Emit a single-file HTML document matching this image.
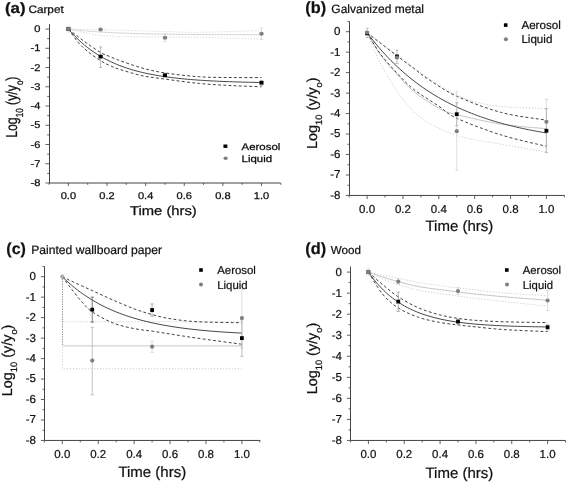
<!DOCTYPE html>
<html lang="en"><head><meta charset="utf-8"><title>Figure</title>
<style>
html,body{margin:0;padding:0;background:#fff;}
body{width:567px;height:482px;overflow:hidden;}
svg{display:block;font-family:"Liberation Sans", Arial, Helvetica, sans-serif;}
</style></head><body>
<svg width="567" height="482" viewBox="0 0 567 482" text-rendering="geometricPrecision">
<rect width="567" height="482" fill="#fff"/>
<path d="M49.50 24.10V183.00H280.60" fill="none" stroke="#444" stroke-width="1.0"/>
<path d="M49.50 29.05h-4.0M49.50 38.67h-2.3M49.50 48.29h-4.0M49.50 57.92h-2.3M49.50 67.54h-4.0M49.50 77.16h-2.3M49.50 86.78h-4.0M49.50 96.40h-2.3M49.50 106.02h-4.0M49.50 115.65h-2.3M49.50 125.27h-4.0M49.50 134.89h-2.3M49.50 144.51h-4.0M49.50 154.13h-2.3M49.50 163.76h-4.0M49.50 173.38h-2.3M49.50 183.00h-4.0M68.40 183.00v3.0M107.02 183.00v3.0M145.64 183.00v3.0M184.26 183.00v3.0M222.88 183.00v3.0M261.50 183.00v3.0M49.09 183.00v1.8M87.71 183.00v1.8M126.33 183.00v1.8M164.95 183.00v1.8M203.57 183.00v1.8M242.19 183.00v1.8M280.81 183.00v1.8" fill="none" stroke="#444" stroke-width="0.85"/>
<text transform="translate(40.30,32.16) scale(1.130,1)" font-size="9.8" text-anchor="end" font-weight="normal" fill="#111" stroke="#111" stroke-width="0.28">0</text>
<text transform="translate(40.30,51.40) scale(1.130,1)" font-size="9.8" text-anchor="end" font-weight="normal" fill="#111" stroke="#111" stroke-width="0.28">-1</text>
<text transform="translate(40.30,70.65) scale(1.130,1)" font-size="9.8" text-anchor="end" font-weight="normal" fill="#111" stroke="#111" stroke-width="0.28">-2</text>
<text transform="translate(40.30,89.89) scale(1.130,1)" font-size="9.8" text-anchor="end" font-weight="normal" fill="#111" stroke="#111" stroke-width="0.28">-3</text>
<text transform="translate(40.30,109.13) scale(1.130,1)" font-size="9.8" text-anchor="end" font-weight="normal" fill="#111" stroke="#111" stroke-width="0.28">-4</text>
<text transform="translate(40.30,128.38) scale(1.130,1)" font-size="9.8" text-anchor="end" font-weight="normal" fill="#111" stroke="#111" stroke-width="0.28">-5</text>
<text transform="translate(40.30,147.62) scale(1.130,1)" font-size="9.8" text-anchor="end" font-weight="normal" fill="#111" stroke="#111" stroke-width="0.28">-6</text>
<text transform="translate(40.30,166.86) scale(1.130,1)" font-size="9.8" text-anchor="end" font-weight="normal" fill="#111" stroke="#111" stroke-width="0.28">-7</text>
<text transform="translate(40.30,186.11) scale(1.130,1)" font-size="9.8" text-anchor="end" font-weight="normal" fill="#111" stroke="#111" stroke-width="0.28">-8</text>
<text transform="translate(68.40,199.20) scale(1.130,1)" font-size="9.8" text-anchor="middle" font-weight="normal" fill="#111" stroke="#111" stroke-width="0.28">0.0</text>
<text transform="translate(107.02,199.20) scale(1.130,1)" font-size="9.8" text-anchor="middle" font-weight="normal" fill="#111" stroke="#111" stroke-width="0.28">0.2</text>
<text transform="translate(145.64,199.20) scale(1.130,1)" font-size="9.8" text-anchor="middle" font-weight="normal" fill="#111" stroke="#111" stroke-width="0.28">0.4</text>
<text transform="translate(184.26,199.20) scale(1.130,1)" font-size="9.8" text-anchor="middle" font-weight="normal" fill="#111" stroke="#111" stroke-width="0.28">0.6</text>
<text transform="translate(222.88,199.20) scale(1.130,1)" font-size="9.8" text-anchor="middle" font-weight="normal" fill="#111" stroke="#111" stroke-width="0.28">0.8</text>
<text transform="translate(261.50,199.20) scale(1.130,1)" font-size="9.8" text-anchor="middle" font-weight="normal" fill="#111" stroke="#111" stroke-width="0.28">1.0</text>
<text transform="translate(5.00,13.00) scale(1.120,1)" font-size="15.0" text-anchor="start" font-weight="bold" fill="#111" stroke="#111" stroke-width="0.28">(a)</text>
<text transform="translate(28.40,13.00) scale(1.090,1)" font-size="10.8" text-anchor="start" font-weight="normal" fill="#111" stroke="#111" stroke-width="0.28">Carpet</text>
<text transform="translate(16.80,107.20) rotate(-90) scale(0.780,1)" font-size="15.8" text-anchor="middle" font-weight="normal" fill="#111" stroke="#111" stroke-width="0.28">Log<tspan font-size="10.27" dy="5.69">10</tspan><tspan dy="-5.69"> (y/y</tspan><tspan font-size="10.27" dy="5.69">o</tspan><tspan dy="-5.69">)</tspan></text>
<text transform="translate(163.40,215.10) scale(1.155,1)" font-size="12.8" text-anchor="middle" font-weight="normal" fill="#111" stroke="#111" stroke-width="0.28">Time (hrs)</text>
<path d="M68.40 29.05C71.62 29.11 80.79 29.27 87.71 29.43C94.63 29.60 97.04 29.66 109.92 30.01C122.79 30.36 149.98 31.17 164.95 31.55C179.92 31.94 183.62 32.48 199.71 32.32C215.80 32.16 251.20 30.88 261.50 30.59" fill="none" stroke="#d2d2d2" stroke-width="0.9" stroke-dasharray="1.2 1.8"/>
<path d="M68.40 29.05C71.62 29.76 80.79 32.10 87.71 33.28C94.63 34.47 97.04 35.53 109.92 36.17C122.79 36.81 149.98 36.94 164.95 37.13C179.92 37.32 183.62 37.00 199.71 37.32C215.80 37.65 251.20 38.77 261.50 39.06" fill="none" stroke="#d2d2d2" stroke-width="0.9" stroke-dasharray="1.2 1.8"/>
<path d="M68.40 29.05L71.62 29.45L74.84 29.82L78.06 30.17L81.27 30.49L84.49 30.79L87.71 31.07L90.93 31.33L94.15 31.57L97.37 31.79L100.58 32.00L103.80 32.20L107.02 32.38L110.24 32.55L113.46 32.71L116.68 32.85L119.89 32.99L123.11 33.12L126.33 33.23L129.55 33.34L132.77 33.45L135.99 33.54L139.20 33.63L142.42 33.71L145.64 33.79L148.86 33.86L152.08 33.93L155.30 33.99L158.51 34.05L161.73 34.10L164.95 34.15L168.17 34.20L171.39 34.24L174.61 34.28L177.82 34.32L181.04 34.35L184.26 34.39L187.48 34.42L190.70 34.44L193.92 34.47L197.13 34.49L200.35 34.52L203.57 34.54L206.79 34.56L210.01 34.58L213.22 34.59L216.44 34.61L219.66 34.62L222.88 34.64L226.10 34.65L229.32 34.66L232.53 34.67L235.75 34.68L238.97 34.69L242.19 34.70L245.41 34.71L248.63 34.72L251.84 34.73L255.06 34.73L258.28 34.74L261.50 34.74" fill="none" stroke="#d6d6d6" stroke-width="1.0"/>
<path d="M68.40 29.05C70.01 30.33 74.84 34.28 78.06 36.75C81.27 39.22 83.95 41.24 87.71 43.87C91.47 46.50 96.89 50.41 100.59 52.53C104.29 54.64 106.69 55.22 109.92 56.57C113.14 57.92 114.65 58.72 119.96 60.61C125.27 62.50 134.28 65.87 141.78 67.92C149.28 69.98 155.29 71.45 164.95 72.93C174.60 74.40 188.44 76.00 199.71 76.77C210.97 77.54 222.24 77.42 232.53 77.54C242.83 77.67 256.67 77.54 261.50 77.54" fill="none" stroke="#3e3e3e" stroke-width="0.98" stroke-dasharray="2.9 2.3"/>
<path d="M68.40 29.05C70.01 31.23 74.84 38.38 78.06 42.14C81.27 45.89 83.95 48.49 87.71 51.57C91.47 54.64 96.89 58.27 100.59 60.61C104.29 62.95 106.69 64.14 109.92 65.61C113.14 67.09 114.65 67.79 119.96 69.46C125.27 71.13 134.28 74.02 141.78 75.62C149.28 77.22 155.29 77.77 164.95 79.08C174.60 80.40 188.44 82.42 199.71 83.51C210.97 84.60 222.24 85.08 232.53 85.63C242.83 86.17 256.67 86.59 261.50 86.78" fill="none" stroke="#3e3e3e" stroke-width="0.98" stroke-dasharray="2.9 2.3"/>
<path d="M68.40 29.05L71.62 32.72L74.84 36.14L78.06 39.33L81.27 42.30L84.49 45.08L87.71 47.66L90.93 50.07L94.15 52.32L97.37 54.42L100.58 56.37L103.80 58.19L107.02 59.89L110.24 61.47L113.46 62.95L116.68 64.33L119.89 65.61L123.11 66.81L126.33 67.92L129.55 68.96L132.77 69.94L135.99 70.84L139.20 71.68L142.42 72.47L145.64 73.20L148.86 73.89L152.08 74.52L155.30 75.12L158.51 75.67L161.73 76.19L164.95 76.67L168.17 77.12L171.39 77.54L174.61 77.93L177.82 78.29L181.04 78.63L184.26 78.95L187.48 79.25L190.70 79.52L193.92 79.78L197.13 80.02L200.35 80.24L203.57 80.45L206.79 80.64L210.01 80.82L213.22 80.99L216.44 81.15L219.66 81.30L222.88 81.43L226.10 81.56L229.32 81.68L232.53 81.79L235.75 81.89L238.97 81.99L242.19 82.08L245.41 82.16L248.63 82.24L251.84 82.31L255.06 82.38L258.28 82.44L261.50 82.50" fill="none" stroke="#464646" stroke-width="1.0"/>
<path d="M68.40 26.16V31.94M66.80 26.16h3.2M66.80 31.94h3.2" fill="none" stroke="#cccccc" stroke-width="0.65"/>
<path d="M164.95 33.86V41.56M163.35 33.86h3.2M163.35 41.56h3.2" fill="none" stroke="#cccccc" stroke-width="0.65"/>
<path d="M261.50 28.09V39.63M259.90 28.09h3.2M259.90 39.63h3.2" fill="none" stroke="#cccccc" stroke-width="0.65"/>
<path d="M100.59 46.95V67.54M99.09 46.95h3.0M99.09 67.54h3.0" fill="none" stroke="#989898" stroke-width="0.65"/>
<path d="M164.95 73.31V77.16M163.35 73.31h3.2M163.35 77.16h3.2" fill="none" stroke="#9c9c9c" stroke-width="0.65"/>
<path d="M261.50 80.43V85.43M259.90 80.43h3.2M259.90 85.43h3.2" fill="none" stroke="#9c9c9c" stroke-width="0.65"/>
<rect x="66.35" y="27.20" width="4.1" height="3.7" fill="#000"/>
<rect x="98.54" y="54.72" width="4.1" height="3.7" fill="#000"/>
<rect x="162.90" y="73.39" width="4.1" height="3.7" fill="#000"/>
<rect x="259.45" y="80.89" width="4.1" height="3.7" fill="#000"/>
<ellipse cx="68.40" cy="29.05" rx="2.25" ry="2.0" fill="#7f7f7f"/>
<ellipse cx="100.59" cy="29.43" rx="2.25" ry="2.0" fill="#7f7f7f"/>
<ellipse cx="164.95" cy="37.71" rx="2.25" ry="2.0" fill="#7f7f7f"/>
<ellipse cx="261.50" cy="33.67" rx="2.25" ry="2.0" fill="#7f7f7f"/>
<rect x="223.45" y="144.50" width="3.9" height="3.4" fill="#000"/>
<ellipse cx="225.60" cy="158.20" rx="2.1" ry="1.8" fill="#7f7f7f"/>
<text transform="translate(241.60,149.60) scale(1.190,1)" font-size="9.6" text-anchor="start" font-weight="normal" fill="#111" stroke="#111" stroke-width="0.28">Aerosol</text>
<text transform="translate(241.60,161.80) scale(1.190,1)" font-size="9.6" text-anchor="start" font-weight="normal" fill="#111" stroke="#111" stroke-width="0.28">Liquid</text>
<path d="M349.50 21.50V195.45H564.40" fill="none" stroke="#444" stroke-width="1.0"/>
<path d="M349.50 21.47h-2.0M349.50 31.70h-3.6M349.50 41.93h-2.0M349.50 52.17h-3.6M349.50 62.40h-2.0M349.50 72.64h-3.6M349.50 82.87h-2.0M349.50 93.11h-3.6M349.50 103.34h-2.0M349.50 113.58h-3.6M349.50 123.81h-2.0M349.50 134.04h-3.6M349.50 144.28h-2.0M349.50 154.51h-3.6M349.50 164.75h-2.0M349.50 174.98h-3.6M349.50 185.22h-2.0M349.50 195.45h-3.6M367.10 195.45v3.6M402.96 195.45v3.6M438.82 195.45v3.6M474.68 195.45v3.6M510.54 195.45v3.6M546.40 195.45v3.6M349.17 195.45v2.0M385.03 195.45v2.0M420.89 195.45v2.0M456.75 195.45v2.0M492.61 195.45v2.0M528.47 195.45v2.0M564.33 195.45v2.0" fill="none" stroke="#444" stroke-width="0.85"/>
<text transform="translate(340.50,35.12)" font-size="11.5" text-anchor="end" font-weight="normal" fill="#111" stroke="#111" stroke-width="0.22">0</text>
<text transform="translate(340.50,55.59)" font-size="11.5" text-anchor="end" font-weight="normal" fill="#111" stroke="#111" stroke-width="0.22">-1</text>
<text transform="translate(340.50,76.05)" font-size="11.5" text-anchor="end" font-weight="normal" fill="#111" stroke="#111" stroke-width="0.22">-2</text>
<text transform="translate(340.50,96.52)" font-size="11.5" text-anchor="end" font-weight="normal" fill="#111" stroke="#111" stroke-width="0.22">-3</text>
<text transform="translate(340.50,116.99)" font-size="11.5" text-anchor="end" font-weight="normal" fill="#111" stroke="#111" stroke-width="0.22">-4</text>
<text transform="translate(340.50,137.46)" font-size="11.5" text-anchor="end" font-weight="normal" fill="#111" stroke="#111" stroke-width="0.22">-5</text>
<text transform="translate(340.50,157.93)" font-size="11.5" text-anchor="end" font-weight="normal" fill="#111" stroke="#111" stroke-width="0.22">-6</text>
<text transform="translate(340.50,178.40)" font-size="11.5" text-anchor="end" font-weight="normal" fill="#111" stroke="#111" stroke-width="0.22">-7</text>
<text transform="translate(340.50,198.87)" font-size="11.5" text-anchor="end" font-weight="normal" fill="#111" stroke="#111" stroke-width="0.22">-8</text>
<text transform="translate(367.10,212.65)" font-size="11.5" text-anchor="middle" font-weight="normal" fill="#111" stroke="#111" stroke-width="0.22">0.0</text>
<text transform="translate(402.96,212.65)" font-size="11.5" text-anchor="middle" font-weight="normal" fill="#111" stroke="#111" stroke-width="0.22">0.2</text>
<text transform="translate(438.82,212.65)" font-size="11.5" text-anchor="middle" font-weight="normal" fill="#111" stroke="#111" stroke-width="0.22">0.4</text>
<text transform="translate(474.68,212.65)" font-size="11.5" text-anchor="middle" font-weight="normal" fill="#111" stroke="#111" stroke-width="0.22">0.6</text>
<text transform="translate(510.54,212.65)" font-size="11.5" text-anchor="middle" font-weight="normal" fill="#111" stroke="#111" stroke-width="0.22">0.8</text>
<text transform="translate(546.40,212.65)" font-size="11.5" text-anchor="middle" font-weight="normal" fill="#111" stroke="#111" stroke-width="0.22">1.0</text>
<text transform="translate(305.30,12.50)" font-size="16.3" text-anchor="start" font-weight="bold" fill="#111" stroke="#111" stroke-width="0.22">(b)</text>
<text transform="translate(331.30,12.80)" font-size="12.0" text-anchor="start" font-weight="normal" fill="#111" stroke="#111" stroke-width="0.22">Galvanized metal</text>
<text transform="translate(316.50,113.20) rotate(-90)" font-size="14.4" text-anchor="middle" font-weight="normal" fill="#111" stroke="#111" stroke-width="0.22">Log<tspan font-size="9.36" dy="5.18">10</tspan><tspan dy="-5.18"> (y/y</tspan><tspan font-size="9.36" dy="5.18">o</tspan><tspan dy="-5.18">)</tspan></text>
<text transform="translate(459.40,231.20)" font-size="15.0" text-anchor="middle" font-weight="normal" fill="#111" stroke="#111" stroke-width="0.22">Time (hrs)</text>
<path d="M367.10 32.72C369.25 34.26 375.03 38.25 380.01 41.93C384.99 45.62 391.37 50.60 396.99 54.83C402.61 59.06 408.45 63.39 413.72 67.32C418.99 71.24 421.43 73.73 428.60 78.37C435.77 83.01 448.47 91.09 456.75 95.15C465.03 99.21 470.50 100.82 478.27 102.73C486.04 104.64 492.01 105.63 503.37 106.62C514.72 107.60 539.23 108.32 546.40 108.66" fill="none" stroke="#c8c8c8" stroke-width="0.9" stroke-dasharray="1.2 1.8"/>
<path d="M367.10 32.72C369.25 37.67 374.69 52.20 380.01 62.40C385.33 72.60 392.20 84.71 399.02 93.92C405.83 103.14 411.27 110.78 420.89 117.67C430.51 124.56 443.30 130.84 456.75 135.27C470.20 139.71 486.63 141.51 501.57 144.28C516.52 147.04 538.93 150.59 546.40 151.85" fill="none" stroke="#c8c8c8" stroke-width="0.9" stroke-dasharray="1.2 1.8"/>
<path d="M367.10 32.72C369.25 36.31 375.03 47.29 380.01 54.22C384.99 61.14 391.37 68.07 396.99 74.28C402.61 80.48 406.75 85.81 413.72 91.47C420.69 97.13 431.65 104.40 438.82 108.25C445.99 112.11 446.29 111.94 456.75 114.60C467.21 117.26 486.63 121.86 501.57 124.22C516.52 126.57 538.93 127.97 546.40 128.72" fill="none" stroke="#c6c6c6" stroke-width="1.0"/>
<path d="M367.10 32.72C369.25 34.40 375.03 38.90 380.01 42.75C384.99 46.61 391.37 51.59 396.99 55.85C402.61 60.12 408.45 64.42 413.72 68.34C418.99 72.26 421.43 74.75 428.60 79.39C435.77 84.03 444.59 90.65 456.75 96.18C468.91 101.70 486.63 108.56 501.57 112.55C516.52 116.54 538.93 118.86 546.40 120.13" fill="none" stroke="#3e3e3e" stroke-width="0.98" stroke-dasharray="2.9 2.3"/>
<path d="M367.10 32.72C369.25 36.17 375.03 46.68 380.01 53.40C384.99 60.12 391.37 67.04 396.99 73.05C402.61 79.05 406.75 83.90 413.72 89.42C420.69 94.95 431.65 101.40 438.82 106.21C445.99 111.02 446.29 113.47 456.75 118.28C467.21 123.09 486.63 130.39 501.57 135.07C516.52 139.74 538.93 144.45 546.40 146.32" fill="none" stroke="#3e3e3e" stroke-width="0.98" stroke-dasharray="2.9 2.3"/>
<path d="M367.10 32.72L370.09 36.65L373.08 40.45L376.06 44.11L379.05 47.64L382.04 51.06L385.03 54.36L388.02 57.54L391.01 60.62L394.00 63.59L396.98 66.45L399.97 69.22L402.96 71.89L405.95 74.48L408.94 76.97L411.93 79.37L414.91 81.70L417.90 83.94L420.89 86.11L423.88 88.20L426.87 90.22L429.86 92.17L432.84 94.06L435.83 95.87L438.82 97.63L441.81 99.33L444.80 100.96L447.79 102.55L450.77 104.07L453.76 105.55L456.75 106.97L459.74 108.35L462.73 109.67L465.72 110.95L468.70 112.19L471.69 113.39L474.68 114.54L477.67 115.66L480.66 116.73L483.64 117.77L486.63 118.77L489.62 119.74L492.61 120.68L495.60 121.58L498.59 122.45L501.57 123.30L504.56 124.11L507.55 124.89L510.54 125.65L513.53 126.38L516.52 127.09L519.50 127.77L522.49 128.43L525.48 129.07L528.47 129.68L531.46 130.28L534.45 130.85L537.43 131.40L540.42 131.94L543.41 132.45L546.40 132.95" fill="none" stroke="#464646" stroke-width="1.0"/>
<path d="M456.75 91.67V170.27M455.15 91.67h3.2M455.15 170.27h3.2" fill="none" stroke="#cccccc" stroke-width="0.65"/>
<path d="M546.40 99.25V145.30M544.80 99.25h3.2M544.80 145.30h3.2" fill="none" stroke="#cccccc" stroke-width="0.65"/>
<path d="M367.10 28.22V37.64M365.50 28.22h3.2M365.50 37.64h3.2" fill="none" stroke="#a8a8a8" stroke-width="0.65"/>
<path d="M396.99 50.12V63.43M395.39 50.12h3.2M395.39 63.43h3.2" fill="none" stroke="#9c9c9c" stroke-width="0.65"/>
<path d="M456.75 102.73V125.86M455.15 102.73h3.2M455.15 125.86h3.2" fill="none" stroke="#9c9c9c" stroke-width="0.65"/>
<path d="M546.40 108.66V152.47M544.80 108.66h3.2M544.80 152.47h3.2" fill="none" stroke="#9c9c9c" stroke-width="0.65"/>
<rect x="365.20" y="31.44" width="3.8" height="3.8" fill="#000"/>
<rect x="395.09" y="54.57" width="3.8" height="3.8" fill="#000"/>
<rect x="454.85" y="112.29" width="3.8" height="3.8" fill="#000"/>
<rect x="544.50" y="128.87" width="3.8" height="3.8" fill="#000"/>
<ellipse cx="367.10" cy="32.52" rx="2.1" ry="2.1" fill="#7f7f7f"/>
<ellipse cx="396.99" cy="57.49" rx="2.1" ry="2.1" fill="#7f7f7f"/>
<ellipse cx="456.75" cy="131.18" rx="2.1" ry="2.1" fill="#7f7f7f"/>
<ellipse cx="546.40" cy="121.76" rx="2.1" ry="2.1" fill="#7f7f7f"/>
<rect x="503.90" y="23.30" width="3.6" height="3.6" fill="#000"/>
<ellipse cx="505.90" cy="39.20" rx="2.0" ry="2.0" fill="#7f7f7f"/>
<text transform="translate(521.40,28.70)" font-size="11.6" text-anchor="start" font-weight="normal" fill="#111" stroke="#111" stroke-width="0.22">Aerosol</text>
<text transform="translate(521.40,42.90)" font-size="11.6" text-anchor="start" font-weight="normal" fill="#111" stroke="#111" stroke-width="0.22">Liquid</text>
<path d="M44.50 266.50V440.45H260.20" fill="none" stroke="#444" stroke-width="1.0"/>
<path d="M44.50 266.47h-2.0M44.50 276.70h-3.6M44.50 286.93h-2.0M44.50 297.17h-3.6M44.50 307.40h-2.0M44.50 317.64h-3.6M44.50 327.87h-2.0M44.50 338.11h-3.6M44.50 348.34h-2.0M44.50 358.57h-3.6M44.50 368.81h-2.0M44.50 379.04h-3.6M44.50 389.28h-2.0M44.50 399.51h-3.6M44.50 409.75h-2.0M44.50 419.98h-3.6M44.50 430.22h-2.0M44.50 440.45h-3.6M62.30 440.45v3.6M98.22 440.45v3.6M134.14 440.45v3.6M170.06 440.45v3.6M205.98 440.45v3.6M241.90 440.45v3.6M44.34 440.45v2.0M80.26 440.45v2.0M116.18 440.45v2.0M152.10 440.45v2.0M188.02 440.45v2.0M223.94 440.45v2.0M259.86 440.45v2.0" fill="none" stroke="#444" stroke-width="0.85"/>
<text transform="translate(35.90,280.12)" font-size="11.5" text-anchor="end" font-weight="normal" fill="#111" stroke="#111" stroke-width="0.22">0</text>
<text transform="translate(35.90,300.59)" font-size="11.5" text-anchor="end" font-weight="normal" fill="#111" stroke="#111" stroke-width="0.22">-1</text>
<text transform="translate(35.90,321.05)" font-size="11.5" text-anchor="end" font-weight="normal" fill="#111" stroke="#111" stroke-width="0.22">-2</text>
<text transform="translate(35.90,341.52)" font-size="11.5" text-anchor="end" font-weight="normal" fill="#111" stroke="#111" stroke-width="0.22">-3</text>
<text transform="translate(35.90,361.99)" font-size="11.5" text-anchor="end" font-weight="normal" fill="#111" stroke="#111" stroke-width="0.22">-4</text>
<text transform="translate(35.90,382.46)" font-size="11.5" text-anchor="end" font-weight="normal" fill="#111" stroke="#111" stroke-width="0.22">-5</text>
<text transform="translate(35.90,402.93)" font-size="11.5" text-anchor="end" font-weight="normal" fill="#111" stroke="#111" stroke-width="0.22">-6</text>
<text transform="translate(35.90,423.40)" font-size="11.5" text-anchor="end" font-weight="normal" fill="#111" stroke="#111" stroke-width="0.22">-7</text>
<text transform="translate(35.90,443.87)" font-size="11.5" text-anchor="end" font-weight="normal" fill="#111" stroke="#111" stroke-width="0.22">-8</text>
<text transform="translate(62.30,458.25)" font-size="11.5" text-anchor="middle" font-weight="normal" fill="#111" stroke="#111" stroke-width="0.22">0.0</text>
<text transform="translate(98.22,458.25)" font-size="11.5" text-anchor="middle" font-weight="normal" fill="#111" stroke="#111" stroke-width="0.22">0.2</text>
<text transform="translate(134.14,458.25)" font-size="11.5" text-anchor="middle" font-weight="normal" fill="#111" stroke="#111" stroke-width="0.22">0.4</text>
<text transform="translate(170.06,458.25)" font-size="11.5" text-anchor="middle" font-weight="normal" fill="#111" stroke="#111" stroke-width="0.22">0.6</text>
<text transform="translate(205.98,458.25)" font-size="11.5" text-anchor="middle" font-weight="normal" fill="#111" stroke="#111" stroke-width="0.22">0.8</text>
<text transform="translate(241.90,458.25)" font-size="11.5" text-anchor="middle" font-weight="normal" fill="#111" stroke="#111" stroke-width="0.22">1.0</text>
<text transform="translate(6.30,254.20)" font-size="16.0" text-anchor="start" font-weight="bold" fill="#111" stroke="#111" stroke-width="0.22">(c)</text>
<text transform="translate(31.20,254.20)" font-size="12.15" text-anchor="start" font-weight="normal" fill="#111" stroke="#111" stroke-width="0.22">Painted wallboard paper</text>
<text transform="translate(11.70,360.40) rotate(-90)" font-size="14.4" text-anchor="middle" font-weight="normal" fill="#111" stroke="#111" stroke-width="0.22">Log<tspan font-size="9.36" dy="5.18">10</tspan><tspan dy="-5.18"> (y/y</tspan><tspan font-size="9.36" dy="5.18">o</tspan><tspan dy="-5.18">)</tspan></text>
<text transform="translate(152.30,477.30)" font-size="15.0" text-anchor="middle" font-weight="normal" fill="#111" stroke="#111" stroke-width="0.22">Time (hrs)</text>
<path d="M62.48 321.73L241.90 321.73" fill="none" stroke="#c8c8c8" stroke-width="0.9" stroke-dasharray="1.2 1.8"/>
<path d="M62.30 346.29L62.48 368.81L241.90 368.81" fill="none" stroke="#c8c8c8" stroke-width="0.9" stroke-dasharray="1.2 1.8"/>
<path d="M63.02 345.88L241.90 345.88" fill="none" stroke="#d2d2d2" stroke-width="1.4"/>
<path d="M62.48 278.75V345.88" fill="none" stroke="#8c8c8c" stroke-width="1" stroke-dasharray="1.3 1.2"/>
<path d="M62.30 276.70C63.78 277.42 66.17 278.68 71.17 281.00C76.17 283.32 85.24 287.41 92.29 290.62C99.35 293.83 106.42 297.17 113.49 300.24C120.55 303.31 128.24 306.65 134.68 309.04C141.11 311.43 146.20 312.96 152.10 314.57C158.00 316.17 162.58 317.47 170.06 318.66C177.54 319.85 185.03 321.05 197.00 321.73C208.97 322.41 234.42 322.58 241.90 322.75" fill="none" stroke="#3e3e3e" stroke-width="0.98" stroke-dasharray="2.9 2.3"/>
<path d="M62.30 276.70C63.78 278.68 67.94 284.41 71.17 288.57C74.41 292.73 78.18 297.78 81.70 301.67C85.22 305.56 87.00 308.32 92.29 311.91C97.59 315.49 106.42 320.37 113.49 323.16C120.55 325.96 128.24 327.36 134.68 328.69C141.11 330.02 146.20 330.26 152.10 331.15C158.00 332.03 162.58 332.85 170.06 334.01C177.54 335.17 185.03 336.40 197.00 338.11C208.97 339.81 234.42 343.22 241.90 344.25" fill="none" stroke="#3e3e3e" stroke-width="0.98" stroke-dasharray="2.9 2.3"/>
<path d="M62.30 276.70L65.29 279.59L68.29 282.35L71.28 284.97L74.27 287.46L77.27 289.83L80.26 292.08L83.25 294.23L86.25 296.27L89.24 298.21L92.23 300.06L95.23 301.81L98.22 303.48L101.21 305.07L104.21 306.58L107.20 308.02L110.19 309.39L113.19 310.69L116.18 311.93L119.17 313.10L122.17 314.22L125.16 315.29L128.15 316.30L131.15 317.26L134.14 318.18L137.13 319.05L140.13 319.88L143.12 320.67L146.11 321.42L149.11 322.14L152.10 322.81L155.09 323.46L158.09 324.07L161.08 324.66L164.07 325.22L167.07 325.74L170.06 326.25L173.05 326.73L176.05 327.18L179.04 327.61L182.03 328.03L185.03 328.42L188.02 328.79L191.01 329.14L194.01 329.48L197.00 329.80L199.99 330.11L202.99 330.40L205.98 330.67L208.97 330.94L211.97 331.19L214.96 331.42L217.95 331.65L220.95 331.87L223.94 332.07L226.93 332.26L229.93 332.45L232.92 332.63L235.91 332.79L238.91 332.95L241.90 333.10" fill="none" stroke="#464646" stroke-width="1.0"/>
<path d="M92.24 327.26V394.80M90.64 327.26h3.2M90.64 394.80h3.2" fill="none" stroke="#b4b4b4" stroke-width="0.8"/>
<path d="M152.10 341.18V352.43M150.50 341.18h3.2M150.50 352.43h3.2" fill="none" stroke="#cccccc" stroke-width="0.65"/>
<path d="M241.90 288.98V348.34M240.30 288.98h3.2M240.30 348.34h3.2" fill="none" stroke="#cccccc" stroke-width="0.65"/>
<path d="M92.24 297.17V322.14M90.64 297.17h3.2M90.64 322.14h3.2" fill="none" stroke="#5a5a5a" stroke-width="0.8"/>
<path d="M152.10 303.92V316.20M150.50 303.92h3.2M150.50 316.20h3.2" fill="none" stroke="#888" stroke-width="0.65"/>
<path d="M241.90 319.68V356.32M240.30 319.68h3.2M240.30 356.32h3.2" fill="none" stroke="#9c9c9c" stroke-width="0.65"/>
<rect x="90.34" y="307.75" width="3.8" height="3.8" fill="#000"/>
<rect x="150.20" y="308.16" width="3.8" height="3.8" fill="#000"/>
<rect x="240.00" y="336.21" width="3.8" height="3.8" fill="#000"/>
<ellipse cx="62.30" cy="276.70" rx="2.1" ry="2.1" fill="#a8a8a8"/>
<ellipse cx="92.24" cy="360.62" rx="2.1" ry="2.1" fill="#7f7f7f"/>
<ellipse cx="152.10" cy="346.70" rx="2.1" ry="2.1" fill="#7f7f7f"/>
<ellipse cx="241.90" cy="318.05" rx="2.1" ry="2.1" fill="#7f7f7f"/>
<rect x="199.20" y="268.20" width="3.6" height="3.6" fill="#000"/>
<ellipse cx="201.00" cy="284.50" rx="2.0" ry="2.0" fill="#7f7f7f"/>
<text transform="translate(217.20,274.10)" font-size="11.4" text-anchor="start" font-weight="normal" fill="#111" stroke="#111" stroke-width="0.22">Aerosol</text>
<text transform="translate(217.20,288.80)" font-size="11.4" text-anchor="start" font-weight="normal" fill="#111" stroke="#111" stroke-width="0.22">Liquid</text>
<path d="M350.50 266.60V440.45H565.50" fill="none" stroke="#444" stroke-width="1.0"/>
<path d="M350.50 272.10h-3.6M350.50 282.62h-2.0M350.50 293.14h-3.6M350.50 303.67h-2.0M350.50 314.19h-3.6M350.50 324.71h-2.0M350.50 335.23h-3.6M350.50 345.75h-2.0M350.50 356.27h-3.6M350.50 366.80h-2.0M350.50 377.32h-3.6M350.50 387.84h-2.0M350.50 398.36h-3.6M350.50 408.88h-2.0M350.50 419.41h-3.6M350.50 429.93h-2.0M350.50 440.45h-3.6M368.40 440.45v3.6M404.24 440.45v3.6M440.08 440.45v3.6M475.92 440.45v3.6M511.76 440.45v3.6M547.60 440.45v3.6M350.48 440.45v2.0M386.32 440.45v2.0M422.16 440.45v2.0M458.00 440.45v2.0M493.84 440.45v2.0M529.68 440.45v2.0M565.52 440.45v2.0" fill="none" stroke="#444" stroke-width="0.85"/>
<text transform="translate(341.90,275.52)" font-size="11.5" text-anchor="end" font-weight="normal" fill="#111" stroke="#111" stroke-width="0.22">0</text>
<text transform="translate(341.90,296.56)" font-size="11.5" text-anchor="end" font-weight="normal" fill="#111" stroke="#111" stroke-width="0.22">-1</text>
<text transform="translate(341.90,317.60)" font-size="11.5" text-anchor="end" font-weight="normal" fill="#111" stroke="#111" stroke-width="0.22">-2</text>
<text transform="translate(341.90,338.65)" font-size="11.5" text-anchor="end" font-weight="normal" fill="#111" stroke="#111" stroke-width="0.22">-3</text>
<text transform="translate(341.90,359.69)" font-size="11.5" text-anchor="end" font-weight="normal" fill="#111" stroke="#111" stroke-width="0.22">-4</text>
<text transform="translate(341.90,380.74)" font-size="11.5" text-anchor="end" font-weight="normal" fill="#111" stroke="#111" stroke-width="0.22">-5</text>
<text transform="translate(341.90,401.78)" font-size="11.5" text-anchor="end" font-weight="normal" fill="#111" stroke="#111" stroke-width="0.22">-6</text>
<text transform="translate(341.90,422.82)" font-size="11.5" text-anchor="end" font-weight="normal" fill="#111" stroke="#111" stroke-width="0.22">-7</text>
<text transform="translate(341.90,443.87)" font-size="11.5" text-anchor="end" font-weight="normal" fill="#111" stroke="#111" stroke-width="0.22">-8</text>
<text transform="translate(368.40,458.35)" font-size="11.5" text-anchor="middle" font-weight="normal" fill="#111" stroke="#111" stroke-width="0.22">0.0</text>
<text transform="translate(404.24,458.35)" font-size="11.5" text-anchor="middle" font-weight="normal" fill="#111" stroke="#111" stroke-width="0.22">0.2</text>
<text transform="translate(440.08,458.35)" font-size="11.5" text-anchor="middle" font-weight="normal" fill="#111" stroke="#111" stroke-width="0.22">0.4</text>
<text transform="translate(475.92,458.35)" font-size="11.5" text-anchor="middle" font-weight="normal" fill="#111" stroke="#111" stroke-width="0.22">0.6</text>
<text transform="translate(511.76,458.35)" font-size="11.5" text-anchor="middle" font-weight="normal" fill="#111" stroke="#111" stroke-width="0.22">0.8</text>
<text transform="translate(547.60,458.35)" font-size="11.5" text-anchor="middle" font-weight="normal" fill="#111" stroke="#111" stroke-width="0.22">1.0</text>
<text transform="translate(305.30,254.00)" font-size="16.3" text-anchor="start" font-weight="bold" fill="#111" stroke="#111" stroke-width="0.22">(d)</text>
<text transform="translate(330.80,254.00)" font-size="11.6" text-anchor="start" font-weight="normal" fill="#111" stroke="#111" stroke-width="0.22">Wood</text>
<text transform="translate(316.50,358.50) rotate(-90)" font-size="14.4" text-anchor="middle" font-weight="normal" fill="#111" stroke="#111" stroke-width="0.22">Log<tspan font-size="9.36" dy="5.18">10</tspan><tspan dy="-5.18"> (y/y</tspan><tspan font-size="9.36" dy="5.18">o</tspan><tspan dy="-5.18">)</tspan></text>
<text transform="translate(459.40,478.10)" font-size="15.0" text-anchor="middle" font-weight="normal" fill="#111" stroke="#111" stroke-width="0.22">Time (hrs)</text>
<path d="M368.40 272.10C370.75 272.59 377.55 274.03 382.50 275.05C387.46 276.06 392.14 276.98 398.15 278.20C404.16 279.43 411.65 281.18 418.58 282.41C425.51 283.64 433.15 284.62 439.72 285.57C446.29 286.51 452.12 287.39 458.00 288.09C463.88 288.79 467.44 288.97 475.02 289.78C482.61 290.58 491.42 291.95 503.52 292.93C515.61 293.92 540.25 295.21 547.60 295.67" fill="none" stroke="#c8c8c8" stroke-width="0.9" stroke-dasharray="1.2 1.8"/>
<path d="M368.40 272.10C370.75 273.19 377.55 276.55 382.50 278.62C387.46 280.69 392.14 282.59 398.15 284.52C404.16 286.44 411.65 288.69 418.58 290.20C425.51 291.71 433.15 292.58 439.72 293.56C446.29 294.55 452.12 295.32 458.00 296.09C463.88 296.86 467.44 297.28 475.02 298.19C482.61 299.11 491.42 300.26 503.52 301.56C515.61 302.86 540.25 305.24 547.60 305.98" fill="none" stroke="#c8c8c8" stroke-width="0.9" stroke-dasharray="1.2 1.8"/>
<path d="M368.40 272.10C370.75 272.91 377.55 275.36 382.50 276.94C387.46 278.52 392.14 279.96 398.15 281.57C404.16 283.18 411.65 285.29 418.58 286.62C425.51 287.95 433.15 288.69 439.72 289.57C446.29 290.44 452.12 291.14 458.00 291.88C463.88 292.62 467.44 293.18 475.02 293.99C482.61 294.79 491.42 295.67 503.52 296.72C515.61 297.77 540.25 299.70 547.60 300.30" fill="none" stroke="#c6c6c6" stroke-width="1.0"/>
<path d="M368.40 272.10C370.75 274.17 377.55 280.41 382.50 284.52C387.46 288.62 392.14 292.83 398.15 296.72C404.16 300.61 411.65 304.86 418.58 307.87C425.51 310.89 433.15 313.07 439.72 314.82C446.29 316.57 452.12 317.48 458.00 318.40C463.88 319.31 467.44 319.73 475.02 320.29C482.61 320.85 491.42 321.38 503.52 321.76C515.61 322.15 540.25 322.46 547.60 322.61" fill="none" stroke="#3e3e3e" stroke-width="0.98" stroke-dasharray="2.9 2.3"/>
<path d="M368.40 272.10C370.75 275.75 377.55 288.02 382.50 293.99C387.46 299.95 392.14 303.98 398.15 307.87C404.16 311.77 411.65 314.92 418.58 317.34C425.51 319.76 433.15 321.13 439.72 322.39C446.29 323.66 452.12 324.18 458.00 324.92C463.88 325.66 467.44 326.04 475.02 326.81C482.61 327.59 491.42 328.74 503.52 329.55C515.61 330.36 540.25 331.30 547.60 331.65" fill="none" stroke="#3e3e3e" stroke-width="0.98" stroke-dasharray="2.9 2.3"/>
<path d="M368.40 272.10L371.39 276.27L374.37 280.13L377.36 283.69L380.35 286.99L383.33 290.04L386.32 292.85L389.31 295.46L392.29 297.87L395.28 300.10L398.27 302.16L401.25 304.06L404.24 305.83L407.23 307.45L410.21 308.96L413.20 310.35L416.19 311.64L419.17 312.83L422.16 313.93L425.15 314.95L428.13 315.89L431.12 316.76L434.11 317.57L437.09 318.31L440.08 319.00L443.07 319.64L446.05 320.22L449.04 320.77L452.03 321.27L455.01 321.74L458.00 322.17L460.99 322.56L463.97 322.93L466.96 323.27L469.95 323.59L472.93 323.88L475.92 324.15L478.91 324.39L481.89 324.62L484.88 324.84L487.87 325.03L490.85 325.22L493.84 325.38L496.83 325.54L499.81 325.68L502.80 325.82L505.79 325.94L508.77 326.05L511.76 326.16L514.75 326.25L517.73 326.34L520.72 326.43L523.71 326.50L526.69 326.57L529.68 326.64L532.67 326.70L535.65 326.76L538.64 326.81L541.63 326.86L544.61 326.90L547.60 326.94" fill="none" stroke="#464646" stroke-width="1.0"/>
<path d="M368.40 268.94V275.26M366.80 268.94h3.2M366.80 275.26h3.2" fill="none" stroke="#cccccc" stroke-width="0.65"/>
<path d="M398.27 278.83V284.31M396.67 278.83h3.2M396.67 284.31h3.2" fill="none" stroke="#cccccc" stroke-width="0.65"/>
<path d="M458.00 287.46V294.62M456.40 287.46h3.2M456.40 294.62h3.2" fill="none" stroke="#cccccc" stroke-width="0.65"/>
<path d="M547.60 290.41V310.61M546.00 290.41h3.2M546.00 310.61h3.2" fill="none" stroke="#cccccc" stroke-width="0.65"/>
<path d="M398.27 292.09V311.45M396.67 292.09h3.2M396.67 311.45h3.2" fill="none" stroke="#8c8c8c" stroke-width="0.65"/>
<path d="M458.00 319.03V324.08M456.40 319.03h3.2M456.40 324.08h3.2" fill="none" stroke="#9c9c9c" stroke-width="0.65"/>
<path d="M547.60 324.71V329.97M546.00 324.71h3.2M546.00 329.97h3.2" fill="none" stroke="#9c9c9c" stroke-width="0.65"/>
<rect x="366.50" y="270.20" width="3.8" height="3.8" fill="#000"/>
<rect x="396.37" y="299.66" width="3.8" height="3.8" fill="#000"/>
<rect x="456.10" y="319.65" width="3.8" height="3.8" fill="#000"/>
<rect x="545.70" y="325.33" width="3.8" height="3.8" fill="#000"/>
<ellipse cx="368.40" cy="272.10" rx="2.1" ry="2.1" fill="#7f7f7f"/>
<ellipse cx="398.27" cy="281.57" rx="2.1" ry="2.1" fill="#7f7f7f"/>
<ellipse cx="458.00" cy="291.04" rx="2.1" ry="2.1" fill="#7f7f7f"/>
<ellipse cx="547.60" cy="300.51" rx="2.1" ry="2.1" fill="#7f7f7f"/>
<rect x="505.00" y="268.20" width="3.6" height="3.6" fill="#000"/>
<ellipse cx="507.00" cy="284.50" rx="2.0" ry="2.0" fill="#7f7f7f"/>
<text transform="translate(522.80,274.00)" font-size="11.3" text-anchor="start" font-weight="normal" fill="#111" stroke="#111" stroke-width="0.22">Aerosol</text>
<text transform="translate(522.80,288.60)" font-size="11.3" text-anchor="start" font-weight="normal" fill="#111" stroke="#111" stroke-width="0.22">Liquid</text>
</svg>
</body></html>
